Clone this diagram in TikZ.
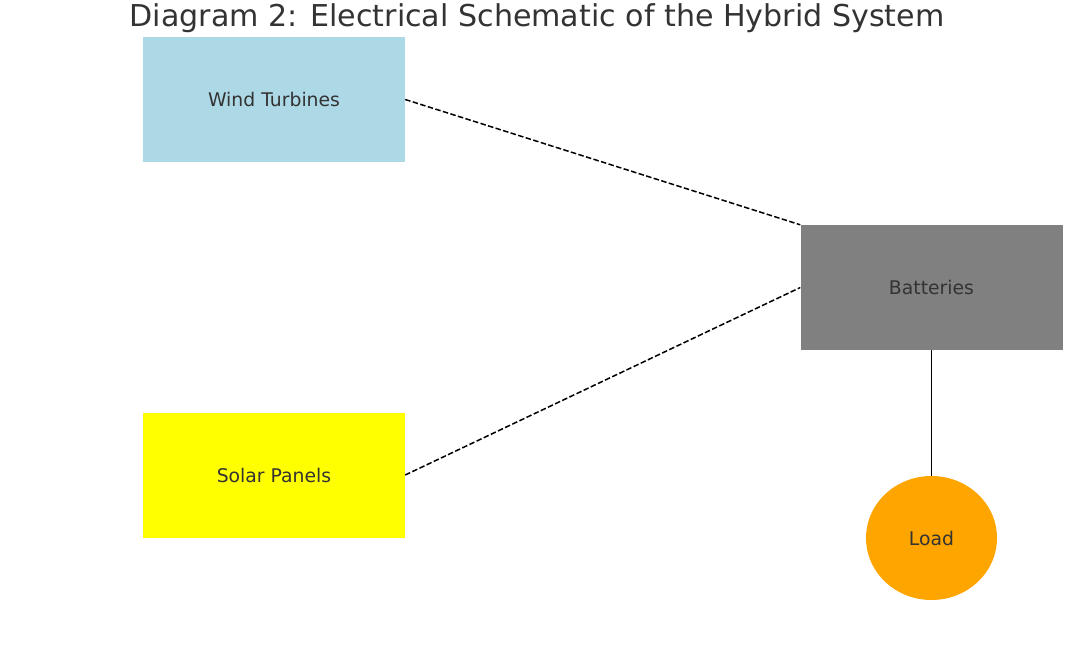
\documentclass[tikz,border=0pt]{standalone}
\usepackage{fontspec}
\setmainfont{DejaVu Sans}
\usetikzlibrary{shapes.geometric}
\definecolor{txt}{HTML}{333333}
\definecolor{windc}{HTML}{ADD8E6}
\definecolor{batc}{HTML}{808080}
\definecolor{loadc}{HTML}{FFA500}
\definecolor{solarc}{HTML}{FFFF00}
\begin{document}
\begin{tikzpicture}[x=1pt,y=-1pt,
  box/.style={rectangle,minimum width=262pt,minimum height=125pt,inner sep=0pt,text=txt,font=\fontsize{18.8}{22}\selectfont},
  conn/.style={line width=1.5pt,black},
  dashconn/.style={conn,dash pattern=on 5.5pt off 2.4pt}]
\useasboundingbox (0,0) rectangle (1070,660);
\node[text=txt,font=\fontsize{30.1}{36}\selectfont,inner sep=0pt] (title) at (537,18.5) {Diagram 2: Electrical Schematic of the Hybrid System};
\node[box,fill=windc] (wind) at (274,99.5) {Wind Turbines};
\node[box,fill=batc] (bat) at (931.5,287.5) {Batteries};
\node[box,fill=solarc] (solar) at (274,475) {Solar Panels};
\node[ellipse,fill=loadc,minimum width=131pt,minimum height=124pt,inner sep=0pt,text=txt,font=\fontsize{18.8}{22}\selectfont] (load) at (931.5,538) {Load};
\draw[dashconn] (wind.east) -- (bat.north west);
\draw[dashconn] (solar.east) -- (bat.west);
\draw[conn] (bat.south) -- (load.north);
\end{tikzpicture}
\end{document}
